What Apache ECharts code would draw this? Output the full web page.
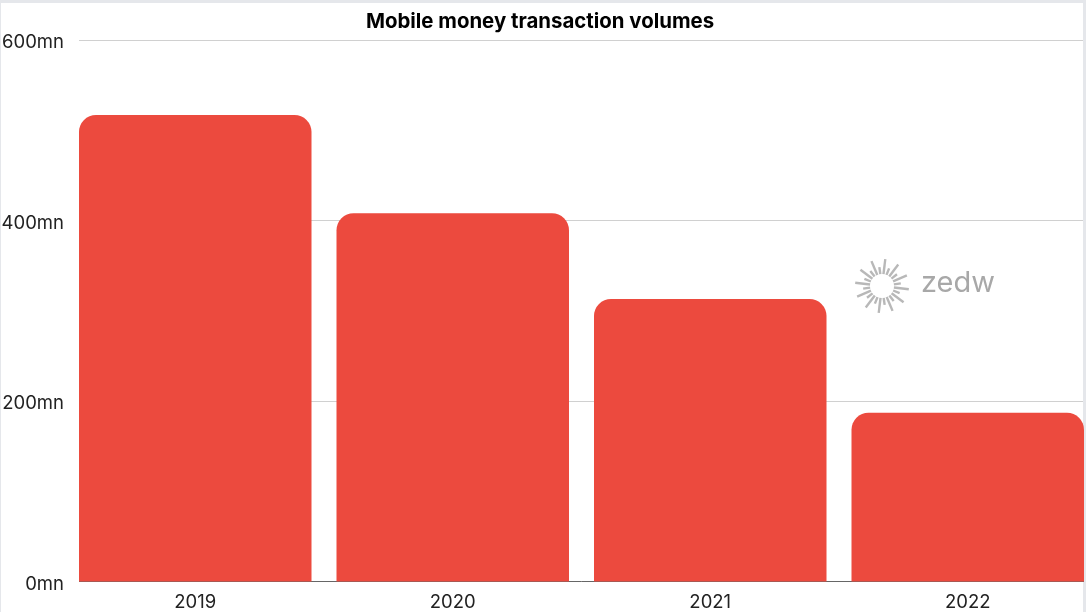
<!DOCTYPE html>
<html>
<head>
<meta charset="utf-8">
<title>Mobile money transaction volumes</title>
<script src="https://cdn.jsdelivr.net/npm/echarts@6/dist/echarts.min.js"></script>
<style>
    html, body { margin: 0; padding: 0; background: #e5e7eb; overflow: hidden; }
    #panel { position: absolute; left: 1px; top: 3px; width: 1082px; height: 609px; background: #fff; }
    #chart { position: absolute; left: 0; top: 0; width: 1086px; height: 612px; }
</style>
</head>
<body>
<div id="panel"></div>
<div id="chart"></div>
<script>
var years = ['2019', '2020', '2021', '2022'];
var volumes = [517, 408, 313, 187];
var yMin = 0;
var yMax = 600;
var yStep = 200;
var unit = 'mn';
var titleText = 'Mobile money transaction volumes';
var fontName = 'Inter';

// sunburst of the watermark, long and short rays take turns
var logoRays = function (cx, cy) {
    var rays = [];
    for (var i = 0; i < 24; i++) {
        var a = (i * 15 + 7) * Math.PI / 180;
        var r1 = i % 2 ? 19 : 27;
        rays.push({
            type: 'line',
            silent: true,
            shape: {
                x1: cx + 12 * Math.cos(a), y1: cy + 12 * Math.sin(a),
                x2: cx + r1 * Math.cos(a), y2: cy + r1 * Math.sin(a)
            },
            style: {stroke: '#b8b8b8', lineWidth: 2.4}
        });
    }
    return rays;
};

var myChart = echarts.init(document.getElementById('chart'));
var option = {
    backgroundColor: 'transparent',
    animation: false,
    title: {
        text: titleText,
        left: 535,
        top: 7,
        textAlign: 'center',
        textStyle: {fontFamily: fontName, fontSize: 20.4, fontWeight: 'bold', color: '#000'}
    },
    // first grid carries the y axis and its lines, second one the bars:
    // the outer bars sit flush with the ends of the gridlines
    grid: [
        {left: 79, top: 40, width: 1004, height: 541.5, outerBoundsMode: 'none'},
        {left: 66.5, top: 40, width: 1030, height: 541.5, outerBoundsMode: 'none'}
    ],
    xAxis: [
        {type: 'category', gridIndex: 0, data: years, show: false},
        {
            type: 'category',
            gridIndex: 1,
            data: years,
            axisTick: {show: false},
            axisLine: {show: false},
            axisLabel: {fontFamily: fontName, fontSize: 18.5, color: '#222', margin: 11}
        }
    ],
    yAxis: [
        {
            type: 'value',
            gridIndex: 0,
            min: yMin,
            max: yMax,
            interval: yStep,
            axisLine: {show: false},
            axisTick: {show: false},
            axisLabel: {
                fontFamily: fontName,
                fontSize: 18.5,
                color: '#222',
                margin: 15,
                // labels hang a little below their gridline
                verticalAlign: 'top',
                lineHeight: 5,
                formatter: function (v) { return v + unit; }
            },
            splitLine: {lineStyle: {color: '#d0d0d0', width: 1}}
        },
        {type: 'value', gridIndex: 1, min: yMin, max: yMax, interval: yStep, show: false}
    ],
    series: [
        {
            name: 'Transaction volume',
            type: 'bar',
            xAxisIndex: 1,
            yAxisIndex: 1,
            data: volumes,
            barWidth: 232.5,
            itemStyle: {color: '#ec4a3e', borderRadius: [17, 17, 0, 0]}
        }
    ],
    graphic: [
        {type: 'group', children: logoRays(882, 286)},
        {
            type: 'text',
            silent: true,
            left: 921,
            top: 269,
            style: {text: 'zedw', fontFamily: 'Inter', fontSize: 29, fontWeight: 400, fill: '#a8a8a8'}
        },
        {
            type: 'line',
            silent: true,
            shape: {x1: 79, y1: 581.5, x2: 1084, y2: 581.5},
            style: {stroke: '#666', lineWidth: 1},
            z: 1
        }
    ]
};
myChart.setOption(option);
</script>
</body>
</html>
